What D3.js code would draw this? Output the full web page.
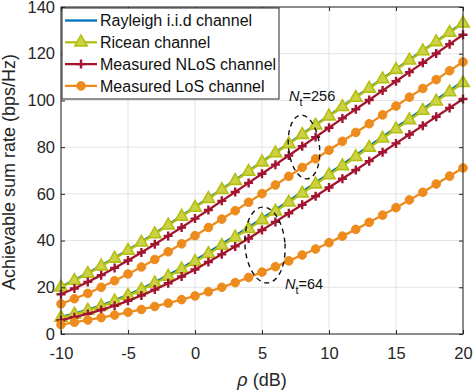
<!DOCTYPE html>
<html><head><meta charset="utf-8">
<script src="https://cdn.jsdelivr.net/npm/d3@7"></script>
<style>
html,body{margin:0;padding:0;background:#fff;}
svg{display:block;font-family:"Liberation Sans",Arial,Helvetica,sans-serif;}
</style></head>
<body><svg id="c" width="474" height="391"></svg>
<script>
const snrDb = [-10,-9,-8,-7,-6,-5,-4,-3,-2,-1,0,1,2,3,4,5,6,7,8,9,10,11,12,13,14,15,16,17,18,19,20];
const xTicks = [-10,-5,0,5,10,15,20];
const yTicks = [0,20,40,60,80,100,120,140];

// Nt = 256
const rayleigh256 = [20.2,23.1,26.1,29.3,32.6,36.0,39.5,43.1,46.8,50.6,54.4,58.2,62.0,65.9,69.8,73.8,77.7,81.6,85.6,89.6,93.5,97.5,101.5,105.4,109.4,113.4,117.4,121.4,125.3,129.3,133.3];
const ricean256   = [20.0,22.8,25.8,29.0,32.3,35.7,39.2,42.8,46.5,50.3,54.1,57.9,61.7,65.6,69.5,73.5,77.4,81.3,85.3,89.3,93.2,97.2,101.2,105.1,109.1,113.1,117.1,121.1,125.0,129.0,133.0];
const nlos256     = [17.0,19.5,22.3,25.2,28.3,31.5,34.9,38.4,42.0,45.6,49.4,53.1,57.0,60.8,64.7,68.6,72.5,76.4,80.4,84.3,88.3,92.3,96.2,100.2,104.2,108.2,112.1,116.1,120.1,124.1,128.1];
const los256      = [12.9,15.1,17.4,20.0,22.8,25.7,28.7,31.9,35.2,38.6,42.1,45.6,49.2,52.8,56.4,60.1,63.8,67.5,71.3,75.0,78.7,82.5,86.3,90.0,93.8,97.6,101.4,105.1,108.9,112.7,116.5];
// Nt = 64
const rayleigh64  = [7.3,8.7,10.4,12.3,14.4,16.8,19.4,22.2,25.2,28.3,31.6,35.0,38.5,42.1,45.7,49.5,53.2,57.0,60.9,64.8,68.7,72.6,76.5,80.5,84.4,88.4,92.3,96.3,100.3,104.2,108.2];
const ricean64    = [7.0,8.4,10.1,11.9,14.0,16.4,18.9,21.7,24.6,27.7,30.9,34.3,37.8,41.4,45.0,48.8,52.5,56.3,60.2,64.1,68.0,71.9,75.8,79.8,83.7,87.7,91.6,95.6,99.6,103.5,107.5];
const nlos64      = [5.9,7.2,8.6,10.3,12.1,14.2,16.5,19.0,21.7,24.6,27.6,30.8,34.1,37.5,40.9,44.5,48.0,51.7,55.3,59.0,62.7,66.5,70.2,74.0,77.8,81.6,85.4,89.2,93.0,96.8,100.6];
const los64       = [4.0,5.0,6.0,7.0,8.1,9.3,10.5,11.8,13.2,14.7,16.3,18.1,20.0,22.0,24.2,26.5,28.8,31.3,33.8,36.4,39.1,41.9,44.8,47.8,50.9,54.1,57.4,60.7,64.2,67.6,71.1];

const legendLabels = ["Rayleigh i.i.d channel","Ricean channel","Measured NLoS channel","Measured LoS channel"];

const L=61,R=463,T=7,B=334;
const svg=d3.select("#c");
const x=d3.scaleLinear().domain([-10,20]).range([L,R]);
const y=d3.scaleLinear().domain([0,140]).range([B,T]);

// grid
svg.append("g").selectAll("line").data(xTicks).join("line")
 .attr("x1",d=>x(d)).attr("x2",d=>x(d)).attr("y1",T).attr("y2",B)
 .attr("stroke","#e3e3e3").attr("stroke-width",1);
svg.append("g").selectAll("line").data(yTicks).join("line")
 .attr("y1",d=>y(d)).attr("y2",d=>y(d)).attr("x1",L).attr("x2",R)
 .attr("stroke","#e3e3e3").attr("stroke-width",1);

const styles = {
 rayleigh:{color:"#0072BD",marker:null},
 ricean:{color:"#B5BF10",fill:"#CCD245",marker:"tri"},
 nlos:{color:"#A2142F",marker:"plus"},
 los:{color:"#ED8B1C",marker:"circ"}
};
const series=[
 {v:rayleigh256,s:"rayleigh"},{v:ricean256,s:"ricean"},{v:nlos256,s:"nlos"},{v:los256,s:"los"},
 {v:rayleigh64,s:"rayleigh"},{v:ricean64,s:"ricean"},{v:nlos64,s:"nlos"},{v:los64,s:"los"}
];
const line=d3.line().x((d,i)=>x(snrDb[i])).y(d=>y(d));
const triPath=d3.symbol(d3.symbolTriangle,66)();
function drawMarker(g,type,cx,cy){
 const st=styles[type];
 if(st.marker==="tri"){
  g.append("path").attr("d",triPath).attr("transform",`translate(${cx},${cy})`)
   .attr("fill",st.fill).attr("stroke",st.color).attr("stroke-width",1.6);
 } else if(st.marker==="plus"){
  g.append("path").attr("d","M-4.5,0H4.5M0,-4.5V4.5").attr("transform",`translate(${cx},${cy})`)
   .attr("stroke",st.color).attr("stroke-width",2.4).attr("fill","none");
 } else if(st.marker==="circ"){
  g.append("circle").attr("cx",cx).attr("cy",cy).attr("r",4.3).attr("fill",st.color).attr("stroke",st.color);
 }
}
const plot=svg.append("g");
series.forEach(se=>{
 const st=styles[se.s];
 const g=plot.append("g");
 g.append("path").datum(se.v).attr("d",line).attr("fill","none")
  .attr("stroke",st.color).attr("stroke-width",2.3);
 if(st.marker) se.v.forEach((d,i)=>drawMarker(g,se.s,x(snrDb[i]),y(d)));
});

// axes box + ticks
const fmt=d=>String(d);
const ax=svg.append("g");
const xa=d3.axisBottom(x).tickValues(xTicks).tickSize(-4).tickPadding(13).tickFormat(fmt);
const ya=d3.axisLeft(y).tickValues(yTicks).tickSize(-4).tickPadding(6).tickFormat(fmt);
ax.append("g").attr("transform",`translate(0,${B})`).call(xa);
ax.append("g").attr("transform",`translate(${L},0)`).call(ya);
ax.append("g").attr("transform",`translate(0,${T})`).call(d3.axisTop(x).tickValues(xTicks).tickSize(-4).tickFormat(""));
ax.append("g").attr("transform",`translate(${R},0)`).call(d3.axisRight(y).tickValues(yTicks).tickSize(-4).tickFormat(""));
ax.selectAll(".domain").remove();
ax.selectAll(".tick line").attr("stroke","#262626");
ax.selectAll(".tick text").attr("fill","#262626").style("font-size","16.5px").style("font-family",'"Liberation Sans",Arial,sans-serif');
svg.append("rect").attr("x",L).attr("y",T).attr("width",R-L).attr("height",B-T)
 .attr("fill","none").attr("stroke","#262626").attr("stroke-width",1);

// annotations: ellipses
svg.append("ellipse").attr("cx",304).attr("cy",147).attr("rx",15.5).attr("ry",32)
 .attr("transform","rotate(-6,304,147)")
 .attr("fill","none").attr("stroke","#111").attr("stroke-width",1.4).attr("stroke-dasharray","5,4");
svg.append("ellipse").attr("cx",265).attr("cy",245).attr("rx",20).attr("ry",38)
 .attr("transform","rotate(-4,265,245)")
 .attr("fill","none").attr("stroke","#111").attr("stroke-width",1.4).attr("stroke-dasharray","5,4");
function ntLabel(px,py,val){
 const t=svg.append("text").attr("x",px).attr("y",py).attr("fill","#111").style("font-size","14.5px");
 t.append("tspan").attr("font-style","italic").text("N");
 t.append("tspan").attr("dy",5).style("font-size","11px").text("t");
 t.append("tspan").attr("dy",-5).text("="+val);
}
ntLabel(289,101,"256");
ntLabel(285,289,"64");

// legend
const lg=svg.append("g");
lg.append("rect").attr("x",62).attr("y",8).attr("width",217).attr("height",91)
 .attr("fill","#fff").attr("stroke","#262626").attr("stroke-width",1);
const lkeys=["rayleigh","ricean","nlos","los"];
lkeys.forEach((k,i)=>{
 const yy=20.5+i*21.8;
 const st=styles[k];
 const g=lg.append("g");
 g.append("line").attr("x1",65).attr("x2",97).attr("y1",yy).attr("y2",yy).attr("stroke",st.color).attr("stroke-width",2.3);
 if(st.marker) drawMarker(g,k,81,yy);
 g.append("text").attr("x",100).attr("y",yy).attr("dy","0.35em").attr("fill","#111")
  .style("font-size","16px").text(legendLabels[i]);
});

// axis labels
svg.append("text").attr("transform","translate(15,172) rotate(-90)").attr("text-anchor","middle")
 .attr("fill","#262626").style("font-size","18px").text("Achievable sum rate (bps/Hz)");
const xl=svg.append("text").attr("x",262).attr("y",386).attr("text-anchor","middle").attr("fill","#262626").style("font-size","18px");
xl.append("tspan").attr("font-style","italic").text("ρ");
xl.append("tspan").text(" (dB)");
</script></body></html>
